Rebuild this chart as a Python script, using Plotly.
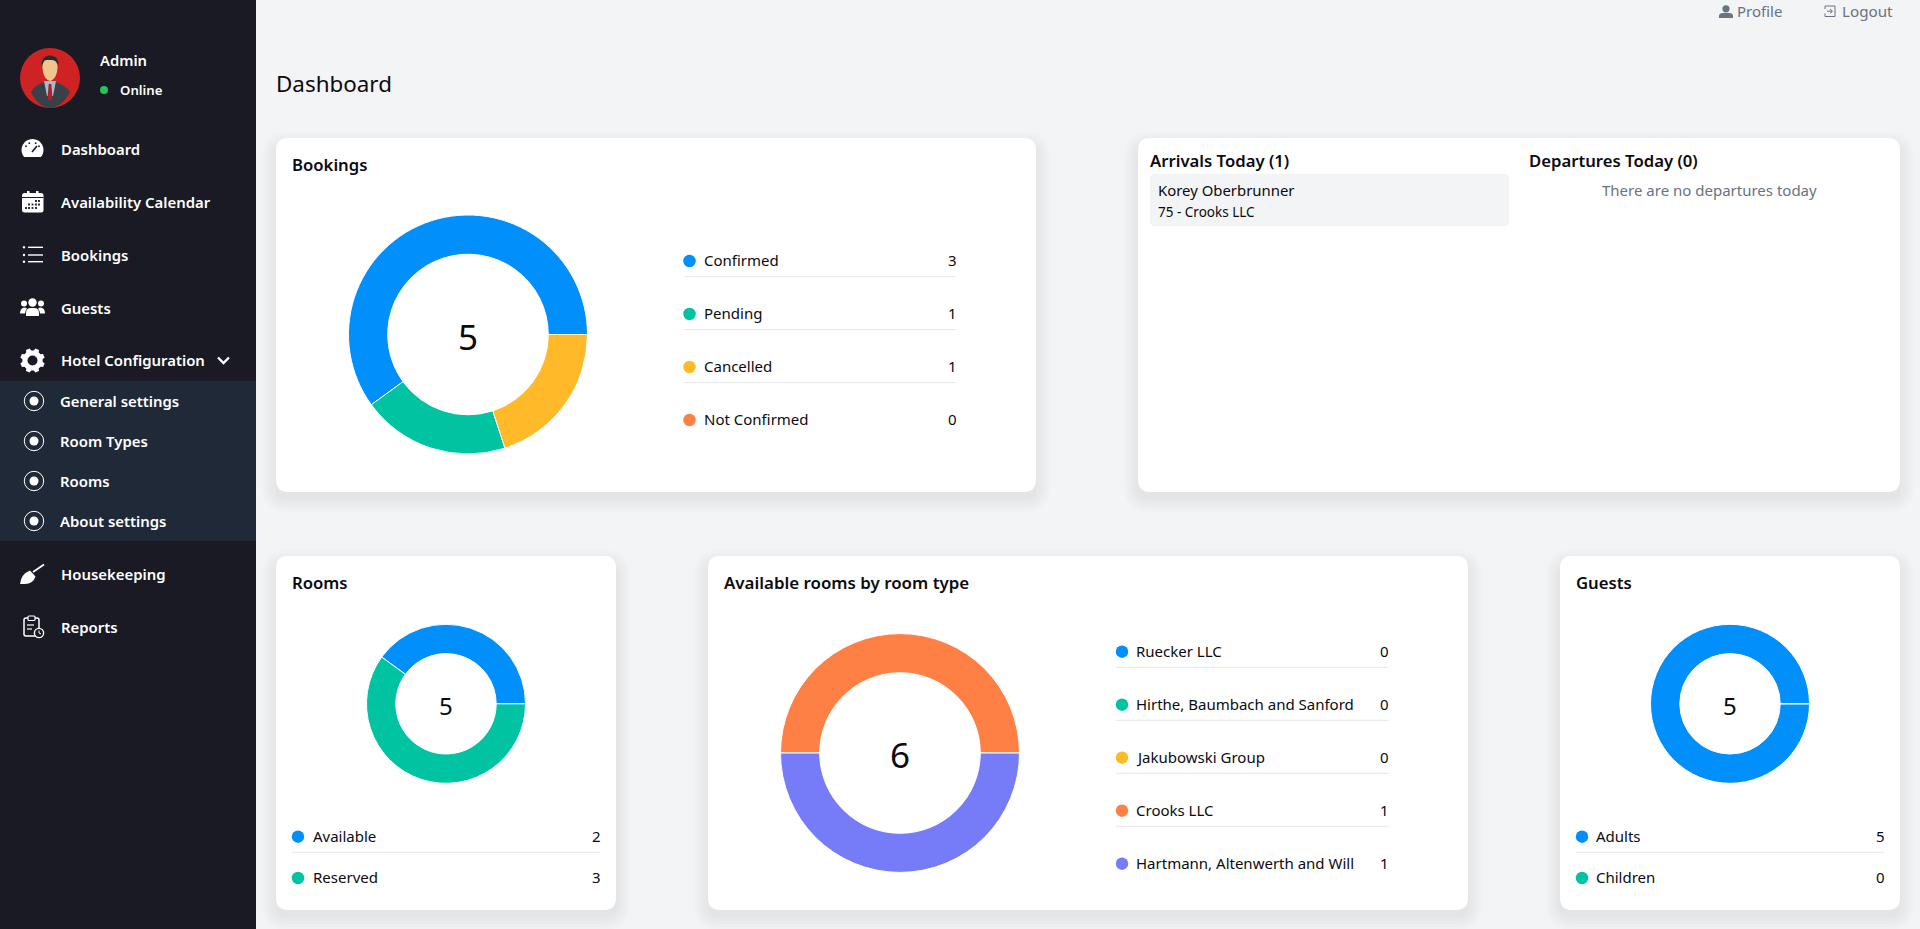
import math
import plotly.graph_objects as go

W, H = 1920, 929
FONT = "Noto Sans"

# data
booking_labels = ["Confirmed", "Pending", "Cancelled", "Not Confirmed"]
booking_values = [3, 1, 1, 0]
room_labels = ["Available", "Reserved"]
room_values = [2, 3]
type_labels = ["Ruecker LLC", "Hirthe, Baumbach and Sanford", "Jakubowski Group", "Crooks LLC", "Hartmann, Altenwerth and Will"]
type_values = [0, 0, 0, 1, 1]
guest_labels = ["Adults", "Children"]
guest_values = [5, 0]
center_totals = [5, 5, 6, 5]

menu_main = ["Dashboard", "Availability Calendar", "Bookings", "Guests", "Hotel Configuration", "Housekeeping", "Reports"]
menu_sub = ["General settings", "Room Types", "Rooms", "About settings"]

palette = ["#008ffb", "#00c4a1", "#ffb929", "#ff8044", "#767cf7"]
SIDE = "#191a23"
SIDE2 = "#1f2937"
BG = "#f3f4f6"
GREY = "#6b7280"
INK = "#0b0b0f"

shapes = []
notes = []


def rounded(x0, y0, x1, y1, r):
    return (f"M{x0+r},{y0} L{x1-r},{y0} Q{x1},{y0} {x1},{y0+r} L{x1},{y1-r} Q{x1},{y1} {x1-r},{y1} "
            f"L{x0+r},{y1} Q{x0},{y1} {x0},{y1-r} L{x0},{y0+r} Q{x0},{y0} {x0+r},{y0} Z")


def add_path(d, fill=None, line=None, width=0):
    shapes.append(dict(type="path", path=d, layer="below", fillcolor=fill or "rgba(0,0,0,0)",
                       line=dict(color=line or "rgba(0,0,0,0)", width=width)))


def add_rect(x0, y0, x1, y1, fill):
    shapes.append(dict(type="rect", x0=x0, y0=y0, x1=x1, y1=y1, layer="below", fillcolor=fill, line=dict(width=0)))


def add_circle(cx, cy, r, fill=None, line=None, width=0):
    shapes.append(dict(type="circle", x0=cx-r, y0=cy-r, x1=cx+r, y1=cy+r, layer="below",
                       fillcolor=fill or "rgba(0,0,0,0)", line=dict(color=line or "rgba(0,0,0,0)", width=width)))


def add_line(x0, y0, x1, y1, color, width=1):
    shapes.append(dict(type="line", x0=x0, y0=y0, x1=x1, y1=y1, layer="below", line=dict(color=color, width=width)))


def add_text(x, y, text, size=14, color=INK, anchor="left", weight=400, dy=-1):
    dx = {"left": -1.2, "right": 2, "center": 0}[anchor]
    notes.append(dict(x=x+dx, y=y+dy, text=text, showarrow=False, xanchor=anchor, yanchor="middle", borderpad=0,
                      font=dict(family=FONT, size=size, color=color, weight=weight)))


def card(x0, y0, x1, y1):
    for s in (14, 11, 8, 5, 2):
        add_path(rounded(x0-s, y0-s+8, x1+s, y1+s+6, 12+s), fill="rgba(15,23,42,0.012)")
    add_path(rounded(x0, y0, x1, y1, 12), fill="white")


def legend_rows(labels, values, colors, dot_x, text_x, right, rule_x0, ys, rule_offset=15.6, size=15):
    for i, (lab, val) in enumerate(zip(labels, values)):
        add_text(text_x, ys[i], lab, size=size)
        add_text(right, ys[i], str(val), size=size, anchor="right")
        if i < len(labels) - 1:
            add_line(rule_x0, ys[i]+rule_offset, right+0.5, ys[i]+rule_offset, "#e5e7eb", 1)
    return go.Scatter(x=[dot_x]*len(labels), y=ys, mode="markers", hoverinfo="skip", showlegend=False,
                      marker=dict(size=12.5, color=colors[:len(labels)], line=dict(width=0)))


def donut(labels, values, colors, cx, cy, outer, inner):
    # plotly ends the first counterclockwise slice at the rotation angle
    start = 90 - 360 * values[0] / sum(values)
    return go.Pie(labels=labels, values=values, hole=inner/outer, sort=False, direction="counterclockwise",
                  rotation=start, textinfo="none", showlegend=False,
                  marker=dict(colors=colors, line=dict(color="white", width=1)),
                  domain=dict(x=[(cx-outer)/W, (cx+outer)/W], y=[1-(cy+outer)/H, 1-(cy-outer)/H]))


# page and sidebar
add_rect(0, 0, W, H, BG)
add_rect(0, 0, 256, H, SIDE)
add_rect(0, 381, 256, 541, SIDE2)

# avatar
add_circle(50, 78, 30, fill="#cf2222")
add_path("M31,92 Q35,85 44,82 L56,82 Q65,85 70,92 Q62,107 50,108 Q38,107 31,92 Z", fill="#3a4048")
add_path("M44,81 L56,81 L53,96 L47,96 Z", fill="#a9bad0")
add_path("M48.7,84 L51.3,84 L52.5,98 L50,101 L47.5,98 Z", fill="#a8232d")
add_path("M42,64 Q42,56 50,56 Q58,56 58,64 L57,72 Q55,80 50,81 Q45,80 43,72 Z", fill="#f0c68c")
add_path("M42,67 Q40,56 50,55.5 Q60,56 58,67 Q57,60 52,60 L46,60 Q43,61 42,67 Z", fill="#2a2a30")
add_text(100, 60.5, "Admin", size=14.8, color="white", weight=600)
add_circle(104, 90, 4, fill="#22c55e")
add_text(120, 90.5, "Online", size=13.2, color="white", weight=600)

# menu
for lab, y in zip(menu_main, [150, 202.5, 255.5, 308.5, 360.7, 575, 628]):
    add_text(61.5, y, lab, size=14.9, color="white", weight=600)
for lab, y in zip(menu_sub, [401.7, 441.7, 481.7, 521.7]):
    add_text(60, y, lab, size=14.9, color="white", weight=600)
    add_circle(34, y-0.7, 9.7, line="white", width=1)
    add_circle(34, y-0.7, 4.5, fill="white")

# gauge icon
pts = [(32.5+11*math.cos(math.radians(a)), 150-11*math.sin(math.radians(a))) for a in range(-40, 221, 10)]
add_path("M" + " L".join(f"{x:.1f},{y:.1f}" for x, y in pts) + " Z", fill="white")
for a in (150, 115, 65, 30):
    add_circle(32.5+7.5*math.cos(math.radians(a)), 150-7.5*math.sin(math.radians(a)), 0.9, fill=SIDE)
add_line(32, 152, 37, 146, SIDE, 1.6)

# calendar icon
add_path(rounded(22, 193, 43.5, 212.5, 2.5), fill="white")
add_rect(27, 191, 29.5, 195, "white")
add_rect(36, 191, 38.5, 195, "white")
add_line(22, 197.5, 43.5, 197.5, SIDE, 1)
for yy, xs in ((201, (36, 39)), (204.5, (29, 32.5, 36, 39)), (208, (26, 29, 32.5, 36))):
    for xx in xs:
        add_rect(xx-0.9, yy-0.9, xx+0.9, yy+0.9, SIDE)

# list icon
for yy in (247.3, 255, 261.7):
    add_circle(24, yy, 1.2, fill="white")
    add_line(28, yy, 43, yy, "white", 1.4)

# users icon
add_circle(32.5, 302.5, 4.2, fill="white")
add_circle(24, 303.5, 3, fill="white")
add_circle(41, 303.5, 3, fill="white")
add_path("M20,313.5 Q20,307.5 25,307.5 L27,308.5 Q25,311 25,313.5 Z", fill="white")
add_path("M45,313.5 Q45,307.5 40,307.5 L38,308.5 Q40,311 40,313.5 Z", fill="white")
add_path("M26,316 L26,313 Q26,308 31,308 L34,308 Q39,308 39,313 L39,316 Z", fill="white")

# gear icon
gear = []
for k in range(8):
    a = k*45
    for off, rr in ((-15, 10.2), (-9, 12.4), (9, 12.4), (15, 10.2)):
        t = math.radians(a+off+22.5)
        gear.append((32.5+rr*math.cos(t), 360.5+rr*math.sin(t)))
add_path("M" + " L".join(f"{x:.1f},{y:.1f}" for x, y in gear) + " Z", fill="white")
add_circle(32.5, 360.5, 5, fill=SIDE)

# chevron
add_path("M218,357.5 L223.5,363 L229,357.5", line="white", width=2.4)

# broom icon
add_line(33, 572, 44, 564.5, "white", 1.8)
add_path("M20,584 Q21,574 30,570.5 L35.5,576.5 Q33,584 25,584 Z", fill="white")

# reports icon
add_path(rounded(24, 618, 39, 636, 2), line="white", width=1.5)
add_path(rounded(28, 616, 35, 620.5, 1), fill=SIDE, line="white", width=1.2)
add_line(27, 625, 34, 625, "white", 1.2)
add_line(27, 629, 32, 629, "white", 1.2)
add_circle(39, 633, 4.6, fill=SIDE, line="white", width=1.4)
add_path("M39,630.5 L39,633 L41,634", line="white", width=1)

# header
add_text(276.5, 84, "Dashboard", size=22.4, color=INK)
add_circle(1726, 8.8, 3.6, fill=GREY)
add_path("M1719,18 L1719,16 Q1719,13 1723,13 L1729,13 Q1733,13 1733,16 L1733,18 Z", fill=GREY)
add_text(1737.5, 12, "Profile", size=15, color=GREY)
add_path("M1825,9 L1825,6 L1835,6 L1835,16.5 L1825,16.5 L1825,13.5", line=GREY, width=1)
add_path("M1827,11.2 L1832,11.2 M1830,9 L1832.5,11.2 L1830,13.4", line=GREY, width=1)
add_text(1842, 12, "Logout", size=15.2, color=GREY)

# cards
card(276, 138, 1036, 492)
card(1138, 138, 1900, 492)
card(276, 556, 616, 910)
card(708, 556, 1468, 910)
card(1560, 556, 1900, 910)

add_text(292.3, 165, "Bookings", size=16.7, weight=600)
add_text(292.3, 583, "Rooms", size=16.7, weight=600)
add_text(724, 583, "Available rooms by room type", size=16.9, weight=600)
add_text(1576, 583, "Guests", size=16.7, weight=600)

# arrivals and departures
add_text(1150, 161, "Arrivals Today (1)", size=16.7, weight=600)
add_text(1529.5, 161, "Departures Today (0)", size=16.7, weight=600)
add_path(rounded(1150, 174, 1509, 226, 4), fill=BG)
add_text(1158.5, 191, "Korey Oberbrunner", size=14.9)
add_text(1158.5, 213, "75 - Crooks LLC", size=13.5)
add_text(1709, 191, "There are no departures today", size=15, color=GREY, anchor="center")

# donuts
traces = [
    donut(booking_labels, booking_values, palette[:4], 468, 334.5, 119.5, 80.3),
    donut(room_labels, room_values, palette[:2], 446, 703.8, 79.5, 50.2),
    donut(type_labels, type_values, palette, 900, 753, 119.5, 80.3),
    donut(guest_labels, guest_values, palette[:2], 1730, 703.8, 79.5, 50.2),
]
for (cx, cy, size), total in zip([(468, 336, 35), (446, 705, 24), (900, 754, 35), (1730, 705, 24)], center_totals):
    add_text(cx, cy, str(total), size=size, anchor="center", dy=0)

# seam of the full ring
shapes.append(dict(type="line", x0=1780.2, y0=703.8, x1=1809.5, y1=703.8, layer="above",
                   line=dict(color="rgba(255,255,255,0.45)", width=1)))

# legends
traces += [
    legend_rows(booking_labels, booking_values, palette, 689.5, 704, 955.5, 684, [261, 314, 367, 420]),
    legend_rows(room_labels, room_values, palette, 298, 312.7, 599.5, 292, [836.7, 878]),
    legend_rows(type_labels, type_values, palette, 1122, 1136, 1388, 1116, [651.7, 704.7, 757.7, 810.7, 863.7]),
    legend_rows(guest_labels, guest_values, palette, 1582, 1596, 1883.5, 1576, [836.7, 878]),
]

fig = go.Figure(traces)
fig.update_layout(
    width=W, height=H, margin=dict(l=0, r=0, t=0, b=0),
    paper_bgcolor=BG, plot_bgcolor=BG, shapes=shapes, annotations=notes,
    xaxis=dict(range=[0, W], visible=False, fixedrange=True),
    yaxis=dict(range=[H, 0], visible=False, fixedrange=True),
    showlegend=False,
)

fig.write_html("out.html", config={"displayModeBar": False},
               post_script="document.body.style.margin='0';document.body.style.overflow='hidden';")
